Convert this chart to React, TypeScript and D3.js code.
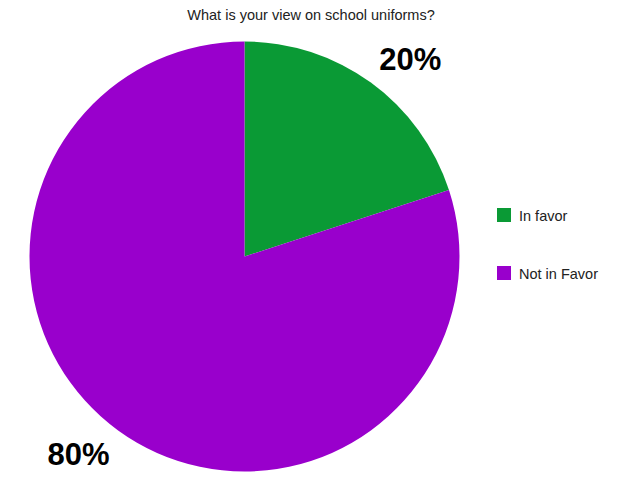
import { arc, pie, PieArcDatum } from "d3";
import { FC } from "react";

const labels = ["In favor", "Not in Favor"];
const values = [20, 80];
const colors = ["#0a9a35", "#9900cc"];
const title = "What is your view on school uniforms?";

const width = 629;
const height = 484;
const cx = 244.5;
const cy = 256.5;
const radius = 215;

type Slice = { label: string; value: number; color: string };

const data: Slice[] = labels.map((label, i) => ({
  label,
  value: values[i],
  color: colors[i]
}));

const App: FC = () => {
  const total = values.reduce((a, b) => a + b, 0);

  const pieGen = pie<Slice>()
    .sort(null)
    .value((d) => d.value);
  const arcs = pieGen(data);

  const arcGen = arc<PieArcDatum<Slice>>().innerRadius(0).outerRadius(radius);

  // labels sit just outside the pie, nudged a bit clockwise
  const labelArc = arc<PieArcDatum<Slice>>()
    .innerRadius(258)
    .outerRadius(258);
  const shift = 0.07;

  return (
    <svg
      width={width}
      height={height}
      style={{ position: "absolute", left: 0, top: 0, background: "#fff" }}
      fontFamily="'Liberation Sans', Arial, sans-serif"
    >
      <text x={311} y={20} textAnchor="middle" fontSize={14.5} fill="#222">
        {title}
      </text>
      <g transform={`translate(${cx},${cy})`}>
        {arcs.map((a, i) => (
          <path key={i} d={arcGen(a)!} fill={a.data.color} />
        ))}
        {arcs.map((a, i) => {
          const [x, y] = labelArc.centroid({
            ...a,
            startAngle: a.startAngle + shift,
            endAngle: a.endAngle + shift
          });
          return (
            <text
              key={i}
              x={x}
              y={y}
              dy="0.35em"
              textAnchor="middle"
              fontSize={31}
              fontWeight="bold"
              fill="#000"
            >
              {Math.round((a.data.value / total) * 100)}%
            </text>
          );
        })}
      </g>
      <g>
        {data.map((d, i) => (
          <g key={d.label} transform={`translate(497,${208 + i * 58})`}>
            <rect width={14} height={14} fill={d.color} />
            <text x={22} y={13} fontSize={14.5} fill="#222">
              {d.label}
            </text>
          </g>
        ))}
      </g>
    </svg>
  );
};

export default App;
